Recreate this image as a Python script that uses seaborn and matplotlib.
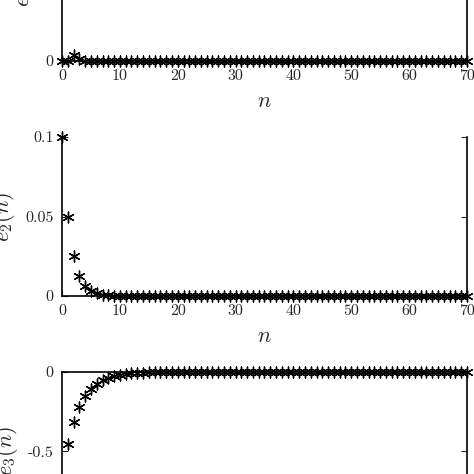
import matplotlib
matplotlib.use("Agg")
import matplotlib.pyplot as plt
import seaborn as sns
import numpy as np

sns.set_style("white")
plt.rcParams['font.family'] = ['cmr10']
plt.rcParams['mathtext.fontset'] = 'cm'
plt.rcParams['axes.unicode_minus'] = False

n = list(range(71))
e1 = [0.0, 0.0, 0.004, 0.001] + [0.0] * 67
e2 = [0.1, 0.05, 0.025, 0.0125, 0.00625, 0.0031, 0.0016, 0.0008, 0.0004, 0.0002] + [0.0] * 61
e3 = [np.nan, -0.45, -0.315, -0.22, -0.154, -0.108, -0.076, -0.053, -0.037, -0.026,
      -0.018, -0.013, -0.009, -0.006, -0.004, -0.003, -0.002, -0.001] + [0.0] * 53
xticks = [0, 10, 20, 30, 40, 50, 60, 70]

fig = plt.figure(figsize=(4.74, 4.74), dpi=100)
w, h, x0 = 0.854, 0.3354, 0.131
panels = [
    (e1, 0.8713, (0, 0.1), [0], ['0'], r'$e_1(n)$', ['left', 'right', 'bottom']),
    (e2, 0.3755, (0, 0.1), [0, 0.05, 0.1], ['0', '0.05', '0.1'], r'$e_2(n)$', ['left', 'right', 'bottom']),
    (e3, 0.2152 - h, (-1, 0), [-0.5, 0], ['-0.5', '0'], r'$e_3(n)$', ['left', 'right', 'top', 'bottom']),
]
for vals, yb, ylim, yt, ytl, lab, spines in panels:
    ax = fig.add_axes([x0, yb, w, h])
    sns.scatterplot(x=n, y=vals, ax=ax, marker=(6, 2, 0), color='black', s=60,
                    linewidth=1.0, edgecolor='black', clip_on=False, zorder=3)
    ax.set_xlim(0, 70)
    ax.set_ylim(*ylim)
    ax.set_xticks(xticks)
    ax.set_xticklabels([str(t) for t in xticks])
    ax.set_yticks(yt)
    ax.set_yticklabels(ytl)
    for s in ['left', 'right', 'top', 'bottom']:
        ax.spines[s].set_visible(s in spines)
        ax.spines[s].set_color('black')
        ax.spines[s].set_linewidth(1.2)
    ax.tick_params(direction='in', length=4, labelsize=11.5, right=True, left=True, bottom=True, pad=6)
    ax.set_xlabel(r'$n$', fontsize=16, labelpad=6)
    ax.set_ylabel(lab, fontsize=16, labelpad=6)

fig.savefig('out.png', dpi=100)
